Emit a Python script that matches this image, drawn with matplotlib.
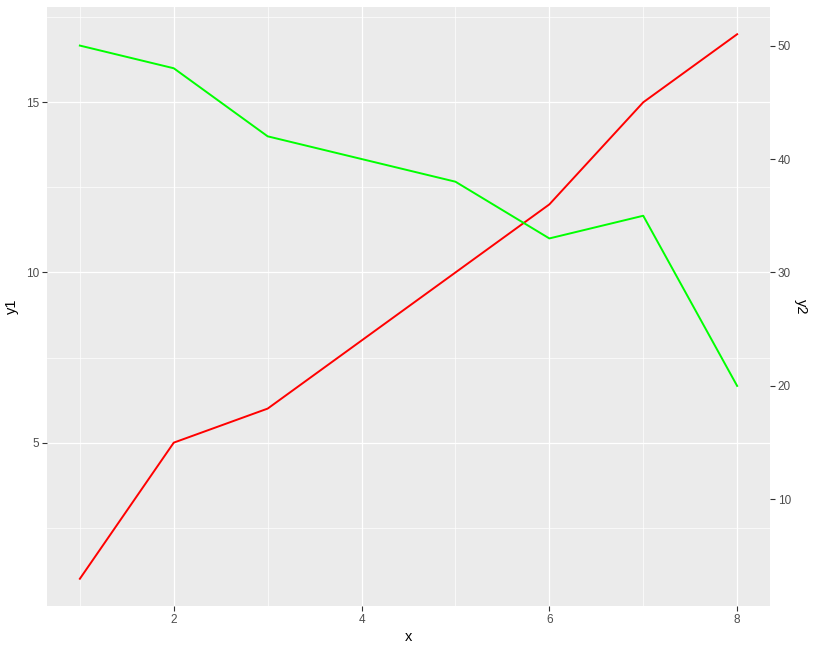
import matplotlib
matplotlib.use("Agg")
import matplotlib.pyplot as plt

plt.rcParams['font.family'] = ['Liberation Sans', 'DejaVu Sans']

x = [1, 2, 3, 4, 5, 6, 7, 8]
y1 = [1, 5, 6, 8, 10, 12, 15, 17]
y2 = [50, 48, 42, 40, 38, 33, 35, 20]
scale = 3  # y2 axis = y1 * 3

y1_breaks = [5, 10, 15]
y1_minor = [2.5, 7.5, 12.5, 17.5]
x_breaks = [2, 4, 6, 8]
x_minor = [1, 3, 5, 7]
y2_breaks = [10, 20, 30, 40, 50]

fig = plt.figure(figsize=(8.17, 6.52), dpi=100)
ax = fig.add_axes([47 / 817, 46 / 652, 723 / 817, 599 / 652])
ax.set_facecolor('#EBEBEB')

ymin, ymax = 0.2, 17.8
ax.set_xlim(0.65, 8.35)
ax.set_ylim(ymin, ymax)

for v in x_minor:
    ax.axvline(v, color='white', lw=0.5, zorder=1)
for v in y1_minor:
    ax.axhline(v, color='white', lw=0.5, zorder=1)
for v in x_breaks:
    ax.axvline(v, color='white', lw=0.9, zorder=1)
for v in y1_breaks:
    ax.axhline(v, color='white', lw=0.9, zorder=1)

ax.plot(x, y1, color='red', lw=1.4, zorder=3)
ax.plot(x, [v / scale for v in y2], color='#00FF00', lw=1.4, zorder=3)

for s in ax.spines.values():
    s.set_visible(False)

ax.set_xticks(x_breaks)
ax.set_yticks(y1_breaks)
ax.tick_params(axis='both', length=3.7, width=0.8, color='#333333',
               labelcolor='#4D4D4D', labelsize=8.5, pad=2)
ax.set_xlabel('x', fontsize=10.5, labelpad=3)
ax.set_ylabel('y1', fontsize=10.5, labelpad=5)

ax2 = ax.twinx()
ax2.set_ylim(ymin * scale, ymax * scale)
ax2.set_yticks(y2_breaks)
for s in ax2.spines.values():
    s.set_visible(False)
ax2.tick_params(axis='y', length=3.7, width=0.8, color='#333333',
                labelcolor='#4D4D4D', labelsize=8.5, pad=2)
ax2.set_ylabel('y2', fontsize=10.5, rotation=270, labelpad=12)

fig.savefig('out.png', dpi=100)
